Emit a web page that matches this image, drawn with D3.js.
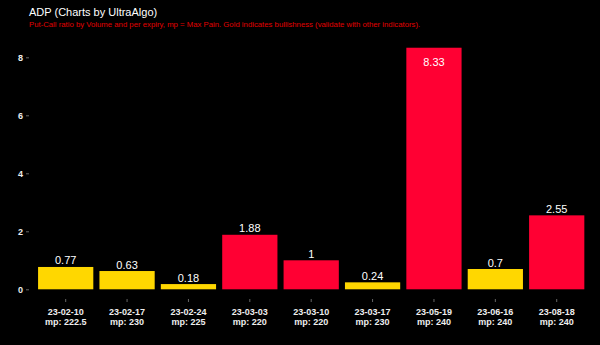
<!DOCTYPE html>
<html>
<head>
<meta charset="utf-8">
<script src="https://cdn.jsdelivr.net/npm/d3@7/dist/d3.min.js"></script>
<style>
  html, body { margin: 0; padding: 0; background: #000; }
  svg { display: block; }
</style>
</head>
<body>
<div id="chart"></div>
<script>
// Put-call ratio per expiry, with max pain strike
const expiries = ["23-02-10", "23-02-17", "23-02-24", "23-03-03", "23-03-10", "23-03-17", "23-05-19", "23-06-16", "23-08-18"];
const maxPain = ["222.5", "230", "225", "220", "220", "230", "240", "240", "240"];
const ratios = [0.77, 0.63, 0.18, 1.88, 1, 0.24, 8.33, 0.7, 2.55];
const bullish = [true, true, true, false, false, true, false, true, false];
const yTicks = [0, 2, 4, 6, 8];

const W = 600, H = 345;
const GOLD = "#FFD700", RED = "#FF0033";

const svg = d3.select("#chart").append("svg")
  .attr("width", W).attr("height", H)
  .style("background", "#000")
  .style("font-family", "'Liberation Sans', Arial, sans-serif");

const x = d3.scaleBand().domain(expiries).range([35, 587.4]).paddingInner(0.1).paddingOuter(0.05);
const y = d3.scaleLinear().domain([0, 8]).range([289.3, 57.3]);

// title + subtitle
svg.append("text").attr("x", 29).attr("y", 15.5)
  .attr("fill", "#fff").attr("font-size", 11).text("ADP (Charts by UltraAlgo)");
svg.append("text").attr("x", 29).attr("y", 26.5)
  .attr("fill", "#e00000").attr("font-size", 7.75)
  .text("Put-Call ratio by Volume and per expiry, mp = Max Pain. Gold indicates bullishness (validate with other indicators).");

// y axis
const yAxis = svg.append("g").attr("transform", "translate(29,0)")
  .call(d3.axisLeft(y).tickValues(yTicks).tickSize(3).tickPadding(3).tickFormat(d3.format("d")));
yAxis.select(".domain").remove();
yAxis.selectAll(".tick line").attr("stroke", "#666");
yAxis.selectAll(".tick text").attr("fill", "#eee").attr("font-size", 9).attr("font-weight", "bold")
  .attr("font-family", "'Liberation Sans', Arial, sans-serif");

// x axis
const xAxis = svg.append("g").attr("transform", "translate(0,299)")
  .call(d3.axisBottom(x).tickSize(3).tickFormat(""));
xAxis.select(".domain").remove();
xAxis.selectAll(".tick line").attr("stroke", "#666");
const xl = svg.append("g");
expiries.forEach((e, i) => {
  const cx = x(e) + x.bandwidth() / 2;
  const t = xl.append("text").attr("x", cx).attr("text-anchor", "middle")
    .attr("fill", "#eee").attr("font-size", 9).attr("font-weight", "bold");
  t.append("tspan").attr("x", cx).attr("y", 314.5).text(e);
  t.append("tspan").attr("x", cx).attr("y", 324.5).text("mp: " + maxPain[i]);
});

// bars
svg.append("g").selectAll("rect").data(expiries).join("rect")
  .attr("x", d => x(d))
  .attr("width", x.bandwidth())
  .attr("y", (d, i) => y(ratios[i]))
  .attr("height", (d, i) => y(0) - y(ratios[i]))
  .attr("fill", (d, i) => bullish[i] ? GOLD : RED);

// value labels
svg.append("g").selectAll("text").data(expiries).join("text")
  .attr("x", d => x(d) + x.bandwidth() / 2)
  .attr("y", (d, i) => ratios[i] > 8 ? y(ratios[i]) + 18.5 : y(ratios[i]) - 2.5)
  .attr("text-anchor", "middle")
  .attr("fill", "#fff").attr("font-size", 11)
  .text((d, i) => String(ratios[i]));
</script>
</body>
</html>
